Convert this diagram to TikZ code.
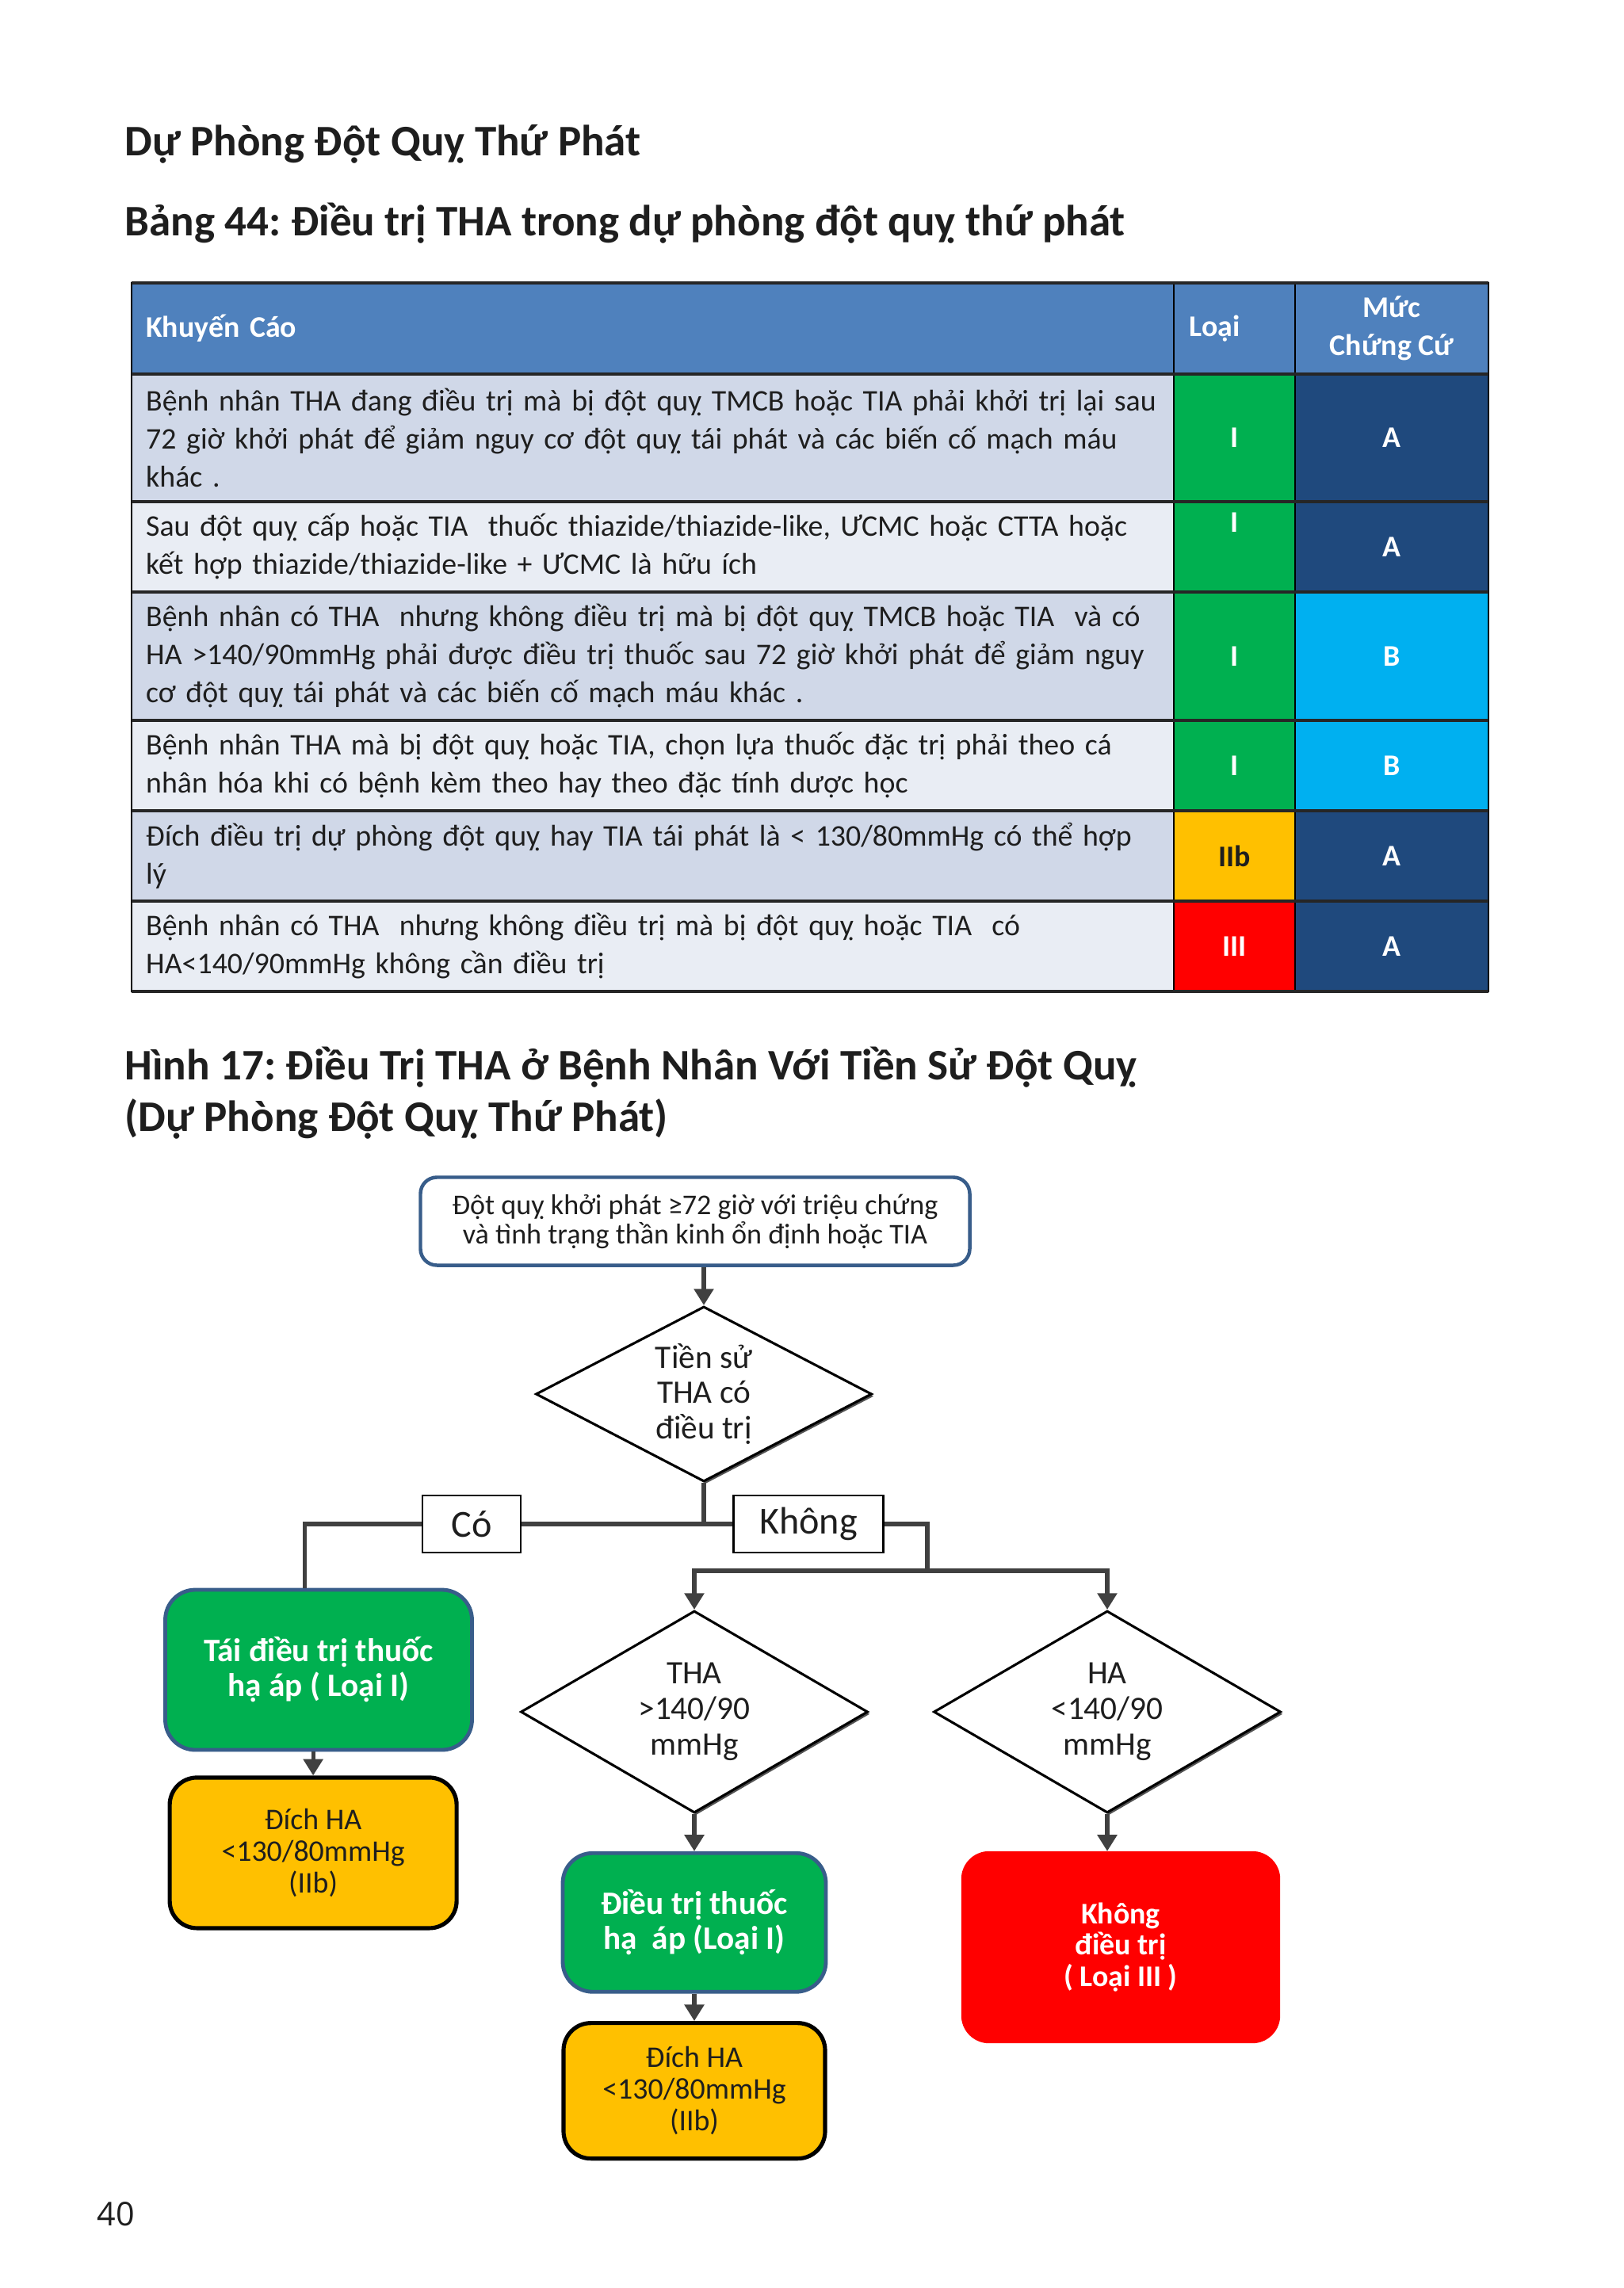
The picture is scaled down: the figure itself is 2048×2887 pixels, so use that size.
\documentclass[tikz,border=0pt]{standalone}
\usepackage{fontspec}
\setmainfont{Carlito}
\newfontfamily\pagefont{Open Sans}
\usepackage{tikz}
\usetikzlibrary{arrows.meta,positioning,shapes.geometric,shadows}
\definecolor{hdrblue}{RGB}{79,129,189}
\definecolor{rowdark}{RGB}{208,216,232}
\definecolor{rowlight}{RGB}{233,237,244}
\definecolor{okgreen}{RGB}{0,176,80}
\definecolor{lvlnavy}{RGB}{31,73,125}
\definecolor{lvlcyan}{RGB}{0,176,240}
\definecolor{warnyel}{RGB}{255,192,0}
\definecolor{badred}{RGB}{255,0,0}
\definecolor{edgeblue}{RGB}{56,93,138}
\definecolor{linegray}{RGB}{64,64,64}
\definecolor{ink}{RGB}{30,30,30}
\newcommand{\pxu}{*0.290664pt}
\frenchspacing

\begin{document}
\begin{tikzpicture}[
  x=0.290664pt, y=-0.290664pt,
  font=\fontsize{11}{13.95}\selectfont,
  plain/.style={inner sep=0pt, text=ink},
  head/.style={plain, anchor=base west, font=\fontsize{16}{19}\selectfont\bfseries},
  cell/.style={draw=black, line width=0.6pt, inner sep=0pt, outer sep=0pt, anchor=north west},
  txt/.style={cell, text=ink, align=left, text width=371.6pt, inner xsep=5.3pt},
  hdr/.style={fill=hdrblue, text=white, font=\fontsize{11}{13.95}\selectfont\bfseries, minimum height=115\pxu},
  kls/.style={cell, align=center, text=white, font=\fontsize{11}{13.95}\selectfont\bfseries, minimum width=153\pxu},
  lvl/.style={kls, minimum width=244\pxu},
  rule/.style={line width=1.1pt, black!85},
  tbox/.style={align=center, inner sep=2pt, text=ink},
  onsetbox/.style={tbox, draw=edgeblue, line width=1.3pt, fill=white, rounded corners=6pt, font=\fontsize{10.5}{10.8}\selectfont},
  dec/.style={tbox, diamond, aspect=2, inner sep=0pt, draw=black, line width=0.9pt, fill=white, font=\fontsize{12}{13}\selectfont,
    drop shadow={shadow xshift=0.8pt, shadow yshift=-0.8pt, fill=black!75, opacity=0.9}},
  lbl/.style={tbox, draw=black, line width=0.8pt, fill=white, minimum height=72\pxu, font=\fontsize{14}{15}\selectfont},
  act/.style={tbox, rounded corners=11pt, fill=okgreen, draw=edgeblue, line width=1.4pt, text=white, font=\fontsize{12}{12.8}\selectfont\bfseries},
  goal/.style={tbox, rounded corners=10pt, fill=warnyel, draw=black, line width=1.5pt, font=\fontsize{11}{11.6}\selectfont},
  nogo/.style={tbox, rounded corners=10pt, fill=badred, draw=badred, text=white, font=\fontsize{11}{11.6}\selectfont\bfseries},
  ln/.style={line width=1.5pt, draw=linegray},
  ar/.style={ln, -{Triangle[length=6pt, width=7pt]}}
]
\path[use as bounding box, fill=white] (0,0) rectangle (2048,2887);

% headings
\node[head] (title) at (157,197) {Dự Phòng Đột Quỵ Thứ Phát};
\node[head] (tabcap) at (157,298) {Bảng 44: Điều trị THA trong dự phòng đột quỵ thứ phát};

% table 44
\node[txt, hdr] (h1) at (166,357) {Khuyến Cáo};
\node[kls, hdr, align=left, text width=32.9pt, inner xsep=5.8pt] (h2) at (h1.north east) {Loại};
\node[lvl, hdr] (h3) at (h2.north east) {Mức\\Chứng Cứ};

\node[txt, fill=rowdark, minimum height=161\pxu] (r1) at (h1.south west)
  {Bệnh nhân THA đang điều trị mà bị đột quỵ TMCB hoặc TIA phải khởi trị lại sau\\72 giờ khởi phát để giảm nguy cơ đột quỵ tái phát và các biến cố mạch máu\\khác .};
\node[kls, fill=okgreen, minimum height=161\pxu] (k1) at (r1.north east) {I};
\node[lvl, fill=lvlnavy, minimum height=161\pxu] (v1) at (k1.north east) {A};

\node[txt, fill=rowlight, minimum height=114\pxu] (r2) at (r1.south west)
  {Sau đột quỵ cấp hoặc TIA\ \ thuốc thiazide/thiazide-like, ƯCMC hoặc CTTA hoặc\\kết hợp thiazide/thiazide-like + ƯCMC là hữu ích};
\node[kls, fill=okgreen, minimum height=114\pxu] (k2) at (r2.north east) {I\\\strut};
\node[lvl, fill=lvlnavy, minimum height=114\pxu] (v2) at (k2.north east) {A};

\node[txt, fill=rowdark, minimum height=162\pxu] (r3) at (r2.south west)
  {Bệnh nhân có THA\ \ nhưng không điều trị mà bị đột quỵ TMCB hoặc TIA\ \ và có\\HA >140/90mmHg phải được điều trị thuốc sau 72 giờ khởi phát để giảm nguy\\cơ đột quỵ tái phát và các biến cố mạch máu khác .};
\node[kls, fill=okgreen, minimum height=162\pxu] (k3) at (r3.north east) {I};
\node[lvl, fill=lvlcyan, minimum height=162\pxu] (v3) at (k3.north east) {B};

\node[txt, fill=rowlight, minimum height=114\pxu] (r4) at (r3.south west)
  {Bệnh nhân THA mà bị đột quỵ hoặc TIA, chọn lựa thuốc đặc trị phải theo cá\\nhân hóa khi có bệnh kèm theo hay theo đặc tính dược học};
\node[kls, fill=okgreen, minimum height=114\pxu] (k4) at (r4.north east) {I};
\node[lvl, fill=lvlcyan, minimum height=114\pxu] (v4) at (k4.north east) {B};

\node[txt, fill=rowdark, minimum height=114\pxu] (r5) at (r4.south west)
  {Đích điều trị dự phòng đột quỵ hay TIA tái phát là < 130/80mmHg có thể hợp\\lý};
\node[kls, fill=warnyel, text=ink, minimum height=114\pxu] (k5) at (r5.north east) {IIb};
\node[lvl, fill=lvlnavy, minimum height=114\pxu] (v5) at (k5.north east) {A};

\node[txt, fill=rowlight, minimum height=114\pxu] (r6) at (r5.south west)
  {Bệnh nhân có THA\ \ nhưng không điều trị mà bị đột quỵ hoặc TIA\ \ có\\HA<140/90mmHg không cần điều trị};
\node[kls, fill=badred, minimum height=114\pxu] (k6) at (r6.north east) {III};
\node[lvl, fill=lvlnavy, minimum height=114\pxu] (v6) at (k6.north east) {A};

\draw[rule] (h1.north west) -- (h3.north east);
\foreach \a/\b in {h1/h3,r1/v1,r2/v2,r3/v3,r4/v4,r5/v5,r6/v6}
  \draw[rule] (\a.south west) -- (\b.south east);

% figure 17
\node[head] (figcap) at (157,1362) {Hình 17: Điều Trị THA ở Bệnh Nhân Với Tiền Sử Đột Quỵ};
\node[head] (figcap2) at ([yshift=-19pt]figcap.base west) {(Dự Phòng Đột Quỵ Thứ Phát)};

\node[onsetbox, minimum width=693\pxu, minimum height=111\pxu] (onset) at (877,1541)
  {Đột quỵ khởi phát ≥72 giờ với triệu chứng\\và tình trạng thần kinh ổn định hoặc TIA};
\node[dec, minimum width=424\pxu, minimum height=221\pxu] (hist) at (888,1759) {Tiền sử\\THA có\\điều trị};

\node[lbl, minimum width=124\pxu] (yes) at (595,1923) {Có};
\node[lbl, minimum width=189\pxu] (no) at (1020,1923) {Không};
\coordinate (split) at (1170,1982);

\node[act, minimum width=387\pxu, minimum height=202\pxu] (retreat) at (402,2107) {Tái điều trị thuốc\\hạ áp ( Loại I)};
\node[goal, minimum width=362\pxu, minimum height=190\pxu, below=8.7pt of retreat, xshift=-2pt] (target1) {Đích HA\\<130/80mmHg\\(IIb)};

\node[dec, minimum width=438\pxu, minimum height=255\pxu] (high) at (876,2160) {THA\\>140/90\\mmHg};
\node[dec, minimum width=438\pxu, minimum height=255\pxu] (low) at (1397,2160) {HA\\<140/90\\mmHg};

\node[act, minimum width=332\pxu, minimum height=175\pxu, below=13.6pt of high] (treat) {Điều trị thuốc\\hạ\ \ áp (Loại I)};
\node[goal, minimum width=330\pxu, minimum height=171\pxu, below=10pt of treat] (target2) {Đích HA\\<130/80mmHg\\(IIb)};
\node[nogo, minimum width=401\pxu, minimum height=241\pxu] (notreat) at (1414,2457) {Không\\điều trị\\( Loại III )};

\draw[ar] (hist.north |- onset.south) -- (hist.north);
\draw[ln] (hist.south) -- (hist.south |- yes.east);
\draw[ln] (yes.east) -- (no.west);
\draw[ln] (yes.west) -| ([xshift=-5pt]retreat.north);
\draw[ln] (no.east) -| (split);
\draw[ar] (split) -| (high.north);
\draw[ar] (split) -| (low.north);
\draw[ar] (target1.north |- retreat.south) -- (target1.north);
\draw[ar] (high.south) -- (treat.north);
\draw[ar] (treat.south) -- (target2.north);
\draw[ar] (low.south) -- (low.south |- notreat.north);

\node[plain, anchor=base west, font=\pagefont\fontsize{12}{14}\selectfont] (pagenum) at (122,2808) {40};
\end{tikzpicture}
\end{document}
